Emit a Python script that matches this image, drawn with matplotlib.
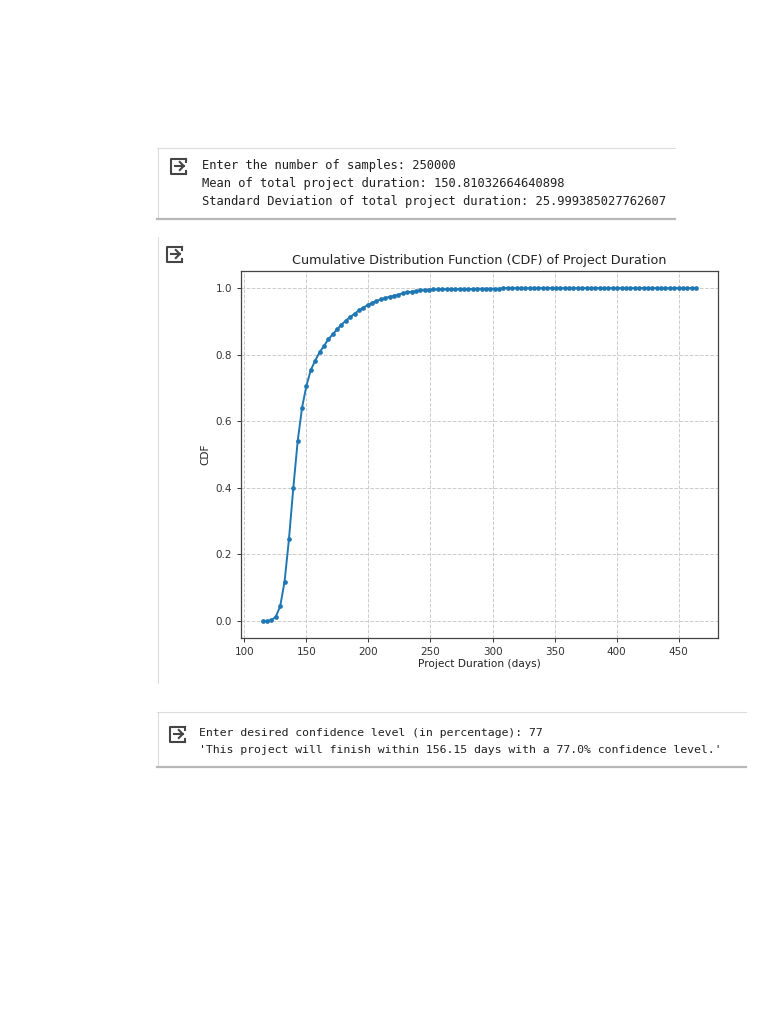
import numpy as np
import matplotlib
matplotlib.use("Agg")
import matplotlib.pyplot as plt
from matplotlib.lines import Line2D

# ---------------- data ----------------
duration_min = 114.8
duration_max = 464.0
n_points = 100
cdf_values = [
    0.000, 0.000, 0.002, 0.013, 0.044, 0.118, 0.245, 0.400, 0.540, 0.641,
    0.707, 0.754, 0.782, 0.807, 0.826, 0.846, 0.861, 0.876, 0.890, 0.902,
    0.913, 0.923, 0.933, 0.941, 0.949, 0.955, 0.961, 0.966, 0.970, 0.974,
    0.977, 0.980, 0.984, 0.987, 0.989, 0.991, 0.993, 0.994, 0.995, 0.996,
    0.996, 0.996, 0.997, 0.997, 0.997, 0.997, 0.997, 0.997, 0.997, 0.998,
    0.998, 0.998, 0.998, 0.998, 0.998, 1.000, 1.000, 1.000, 1.000, 1.000,
    1.000, 1.000, 1.000, 1.000, 1.000, 1.000, 1.000, 1.000, 1.000, 1.000,
    1.000, 1.000, 1.000, 1.000, 1.000, 1.000, 1.000, 1.000, 1.000, 1.000,
    1.000, 1.000, 1.000, 1.000, 1.000, 1.000, 1.000, 1.000, 1.000, 1.000,
    1.000, 1.000, 1.000, 1.000, 1.000, 1.000, 1.000, 1.000, 1.000, 1.000,
]
x_ticks = [100, 150, 200, 250, 300, 350, 400, 450]
y_ticks = [0.0, 0.2, 0.4, 0.6, 0.8, 1.0]

out1_lines = [
    "Enter the number of samples: 250000",
    "Mean of total project duration: 150.81032664640898",
    "Standard Deviation of total project duration: 25.999385027762607",
]
out3_lines = [
    "Enter desired confidence level (in percentage): 77",
    "'This project will finish within 156.15 days with a 77.0% confidence level.'",
]
title = "Cumulative Distribution Function (CDF) of Project Duration"
xlabel = "Project Duration (days)"
ylabel = "CDF"

# ---------------- figure ----------------
W, H = 768, 1024
fig = plt.figure(figsize=(W / 100, H / 100), dpi=100)
fig.patch.set_facecolor("white")


def fx(x):
    return x / W


def fy(y):
    return 1 - y / H


def hline(x0, x1, y, color, lw=1.0):
    fig.add_artist(Line2D([fx(x0), fx(x1)], [fy(y), fy(y)], color=color, lw=lw))


def vline(x, y0, y1, color, lw=1.0):
    fig.add_artist(Line2D([fx(x), fx(x)], [fy(y0), fy(y1)], color=color, lw=lw))


def icon(cx, cy):
    # "exit to app" style icon: open box with arrow pointing right
    c = "#454545"
    s = 7.5
    lw = 1.5
    fig.add_artist(Line2D([fx(cx + s), fx(cx - s), fx(cx - s), fx(cx + s)],
                          [fy(cy - s), fy(cy - s), fy(cy + s), fy(cy + s)],
                          color=c, lw=lw, solid_joinstyle="round"))
    fig.add_artist(Line2D([fx(cx + s), fx(cx + s)], [fy(cy - s), fy(cy - s + 3)],
                          color=c, lw=lw))
    fig.add_artist(Line2D([fx(cx + s), fx(cx + s)], [fy(cy + s), fy(cy + s - 3)],
                          color=c, lw=lw))
    # arrow
    fig.add_artist(Line2D([fx(cx - 3.5), fx(cx + 5.5)], [fy(cy), fy(cy)], color=c, lw=lw))
    fig.add_artist(Line2D([fx(cx + 1.8), fx(cx + 5.8), fx(cx + 1.8)],
                          [fy(cy - 4), fy(cy), fy(cy + 4)], color=c, lw=lw))


border = "#dadce0"
shadow = "#b8b8b8"

# ---- output box 1 ----
hline(157, 675, 148, border, 0.8)
vline(157.5, 148, 218, border, 0.8)
hline(157, 675, 218.5, shadow, 1.6)
icon(178, 166)
for i, line in enumerate(out1_lines):
    fig.text(fx(202), fy(166 + i * 17.5), line, family="DejaVu Sans Mono",
             fontsize=8.75, color="#212121", va="center", ha="left")

# ---- output box 2 (chart) ----
vline(158, 237, 683, border, 0.8)
icon(174, 254)

# ---- output box 3 ----
hline(157, 746, 712, border, 0.8)
vline(157.5, 712, 766, border, 0.8)
hline(157, 746, 766.5, shadow, 1.6)
icon(177, 734)
for i, line in enumerate(out3_lines):
    fig.text(fx(199), fy(733 + i * 17), line, family="DejaVu Sans Mono",
             fontsize=8.25, color="#212121", va="center", ha="left")

# ---------------- chart ----------------
ax_l, ax_r, ax_t, ax_b = 241, 717.7, 271.4, 637.6
ax = fig.add_axes([fx(ax_l), fy(ax_b), (ax_r - ax_l) / W, (ax_b - ax_t) / H])

durations = np.linspace(duration_min, duration_max, n_points)
ax.plot(durations, cdf_values, color="#1f77b4", lw=1.4, marker="o",
        markersize=3.4, markeredgewidth=0)

ax.set_xticks(x_ticks)
ax.set_yticks(y_ticks)
ax.set_yticklabels([f"{v:.1f}" for v in y_ticks])
ax.tick_params(labelsize=7.5, colors="#333333", length=3, width=0.7)
ax.grid(True, linestyle="--", color="#cccccc", lw=0.7)
for sp in ax.spines.values():
    sp.set_color("#444444")
    sp.set_linewidth(0.9)

ax.set_title(title, fontsize=9.2, color="#222222", pad=5)
ax.set_xlabel(xlabel, fontsize=7.6, color="#222222", labelpad=2)
ax.set_ylabel(ylabel, fontsize=7.6, color="#222222", labelpad=4)

fig.savefig("out.png", dpi=100, facecolor="white")
